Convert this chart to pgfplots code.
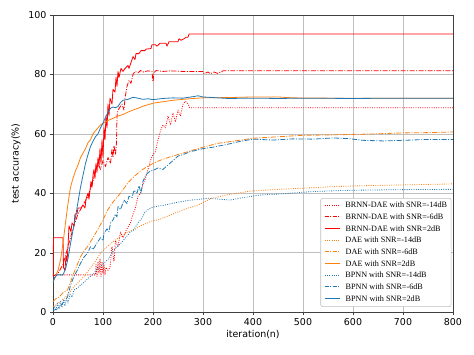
\documentclass[border=0pt]{standalone}
\usepackage{pgfplots}
\pgfplotsset{compat=1.18}
\usepackage{fontspec}
\setmainfont{DejaVu Sans}
\newfontfamily\legfont{Liberation Serif}
\definecolor{tabblue}{RGB}{31,119,180}
\definecolor{taborange}{RGB}{255,127,14}
\definecolor{bred}{RGB}{255,0,0}
\newcommand{\lf}{\legfont\fontsize{8.2}{9}\selectfont}
\newcommand{\rr}[1]{\rule[2.4bp]{#1}{0.8pt}}
\newcommand{\ldot}[1]{\textcolor{#1}{\rr{0.9pt}\hspace{1.4pt}\rr{0.9pt}\hspace{1.4pt}\rr{0.9pt}\hspace{1.4pt}\rr{0.9pt}\hspace{1.4pt}\rr{0.9pt}\hspace{1.4pt}\rr{0.9pt}\hspace{1.4pt}\rr{0.9pt}}\hspace{6bp}}
\newcommand{\ldash}[1]{\textcolor{#1}{\rr{4pt}\hspace{1.5pt}\rr{1pt}\hspace{1.5pt}\rr{4pt}\hspace{1.5pt}\rr{1pt}}\hspace{6.5bp}}
\newcommand{\lsol}[1]{\textcolor{#1}{\rr{15bp}}\hspace{6bp}}
\begin{document}
\begin{tikzpicture}
\useasboundingbox (-53bp,-43bp) rectangle (421bp,312bp);
\begin{axis}[
  scale only axis, width=400bp, height=297bp,
  xmin=0, xmax=800, ymin=0, ymax=100,
  xtick={0,100,...,800}, ytick={0,20,...,100},
  grid=major, grid style={color=black!25, line width=0.6pt},
  axis line style={color=black!75, line width=0.8pt},
  tick style={color=black!75},
  major tick length=3bp,
  tick align=outside,
  xtick pos=bottom, ytick pos=left,
  /pgf/number format/assume math mode=true,
  ticklabel style={font=\fontsize{9.5}{11}\selectfont},
  label style={font=\fontsize{9.5}{11}\selectfont},
  xlabel={iteration(n)}, ylabel={test accuracy(\%)},
  xlabel style={at={(axis description cs:0.5,-0.077)}, anchor=center},
  ylabel style={at={(axis description cs:-0.0925,0.5)}, anchor=center},
  legend style={at={(rel axis cs:0.996,0.017)}, anchor=south east,
    draw=black!25, fill=white, rounded corners=2pt, line width=0.6pt,
    row sep=0.5bp, inner sep=2bp, column sep=0pt},
  legend cell align=left,
  legend image code/.code={},
  every axis plot/.append style={line width=0.8pt, line join=round},
]
% BRNN-DAE -14dB
\addplot[bred, dash pattern=on 0.9pt off 1.4pt] coordinates {
(0,12.5) (85,12.5) (86,16) (88,12) (90,17) (92,13) (94,18) (96,12) (98,17) (100,13) (102,16) (104,12.5) (106,15) (110,14) (114,15) (118,22) (122,17) (125,24) (130,22) (135,27) (140,25) (148,28) (155,30) (160,33) (165,35) (170,39) (175,40) (180,43) (185,45) (190,48) (195,51) (200,53) (205,54) (210,58) (215,61) (220,63) (225,62) (230,66) (235,63) (240,67) (245,64) (250,68) (255,66) (260,70) (265,71) (270,70) (273,68.8) (800,68.8)};
\addlegendentry{\lf\ldot{bred}BRNN-DAE with SNR=-14dB}
% BRNN-DAE -6dB
\addplot[bred, dash pattern=on 5pt off 1.5pt on 1pt off 1.5pt] coordinates {
(0,12) (10,13) (20,16) (30,22) (40,28) (50,33) (60,36) (70,39) (80,44) (85,48) (90,50) (95,48) (100,51) (105,49) (110,52) (115,50) (118,55) (120,52) (122,56) (125,53) (127,57) (128,66) (130,68) (134,69) (138,70) (142,68) (144,72) (148,76) (152,78) (156,77) (160,80) (164,81) (170,80.5) (175,81.3) (180,80.8) (190,81.2) (198,81) (200,77.5) (202,80.5) (206,81.3) (220,81) (235,81.2) (260,81) (300,81) (302,80.2) (310,80.8) (315,80.2) (322,80.8) (330,80.3) (338,81) (340,81.2) (800,81.2)};
\addlegendentry{\lf\ldash{bred}BRNN-DAE with SNR=-6dB}
% BRNN-DAE 2dB
\addplot[bred, solid] coordinates {
(0,12) (1,25) (20,25) (21,15) (24,14) (26,19) (28,17) (30,22) (32,29) (36,27) (38,30) (42,29) (44,33) (48,33) (50,35) (56,35) (60,36) (64,35) (66,38) (70,40) (72,38) (76,44) (78,42) (80,46) (82,48) (84,45) (86,50) (88,47) (90,52) (92,49) (94,55) (96,50) (98,58) (100,52) (102,62) (104,58) (106,66) (108,62) (110,70) (112,66) (114,72) (118,70) (120,75) (124,74) (126,79) (128,76) (130,81) (132,79) (136,82) (140,81) (144,82) (150,83) (152,82) (156,84) (160,86) (164,85) (166,87) (172,87) (176,88) (184,88) (186,88.5) (196,88.7) (198,90) (205,90) (208,89.5) (214,90.5) (226,90.5) (228,89.5) (232,91) (250,91) (252,92) (256,91.5) (262,92) (266,92.5) (270,92.5) (272,93.6) (800,93.6)};
\addlegendentry{\lf\lsol{bred}BRNN-DAE with SNR=2dB}
% DAE -14dB
\addplot[taborange, dash pattern=on 0.9pt off 1.4pt] coordinates {
(0,1.8) (15,3.5) (29,5.7) (42,8.5) (62,12) (82,16.4) (95,19.8) (105,21.5) (115,23) (135,25.4) (150,27) (162,27.6) (175,29) (189,30) (200,30.8) (210,31) (230,32.3) (244,33.3) (270,35) (290,36) (317,38.3) (350,39.5) (394,40.7) (450,41.3) (514,41.8) (560,42.2) (614,42.5) (700,42.8) (794,43.1) (800,43.2)};
\addlegendentry{\lf\ldot{taborange}DAE with SNR=-14dB}
% DAE -6dB
\addplot[taborange, dash pattern=on 5pt off 1.5pt on 1pt off 1.5pt] coordinates {
(0,3.5) (6,4.5) (12,5) (20,6.5) (29,7.4) (35,10) (39,12) (45,14.5) (55,18.6) (62,20.5) (69,22) (80,25) (89,27.6) (100,31) (109,34.3) (120,37) (135,40) (150,43.5) (162,45.6) (175,47.5) (189,49) (200,50) (210,50.8) (230,52) (260,53.5) (300,55.5) (330,56.8) (360,57.5) (400,58.5) (450,59) (500,59.5) (550,59.6) (600,59.8) (650,60) (700,60.3) (750,60.4) (800,60.6)};
\addlegendentry{\lf\ldash{taborange}DAE with SNR=-6dB}
% DAE 2dB
\addplot[taborange, solid] coordinates {
(0,10) (5,12) (10,14) (15,17.5) (20,23) (25,30) (30,36.5) (35,42) (40,45) (45,47.5) (50,49.5) (55,52) (60,53.5) (65,55) (70,57) (75,58) (80,60) (85,61) (90,62) (95,63) (100,63.5) (110,64.5) (120,65.2) (130,66) (140,66.5) (150,67.3) (160,68) (170,68.6) (180,69.3) (190,69.8) (200,70.3) (220,70.8) (240,71.3) (260,71.6) (280,71.9) (300,72.1) (350,72.2) (400,72.4) (450,72.4) (480,72.1) (550,72.0) (800,72.0)};
\addlegendentry{\lf\lsol{taborange}DAE with SNR=2dB}
% BPNN -14dB
\addplot[tabblue, dash pattern=on 0.9pt off 1.4pt] coordinates {
(0,0.7) (3,2) (6,0.5) (9,3) (12,1) (15,3.5) (18,1.5) (21,4) (24,2) (27,4.5) (30,3) (34,6) (38,5) (42,7.4) (48,8) (55,9) (62,10) (68,11) (75,12) (82,13) (88,14.5) (95,15.3) (102,16.5) (109,17.5) (115,19) (122,20.9) (128,22) (135,23) (145,25) (155,27) (162,27.8) (170,30) (178,31.5) (184,33.7) (195,35) (205,35.5) (224,36) (250,37) (277,37.7) (310,38.3) (354,37.7) (380,38.5) (414,39.4) (460,39.8) (514,40.5) (560,40.8) (600,41) (700,41.2) (800,41.3)};
\addlegendentry{\lf\ldot{tabblue}BPNN with SNR=-14dB}
% BPNN -6dB
\addplot[tabblue, dash pattern=on 5pt off 1.5pt on 1pt off 1.5pt] coordinates {
(0,0.5) (8,1) (15,2) (22,3.5) (29,5) (35,9) (42,12) (50,14.5) (55,16.4) (62,18.5) (69,19.8) (75,22) (80,21) (89,23.5) (95,25) (100,24) (102,26.5) (108,28) (112,27) (115,30) (120,31) (125,33) (128,32) (130,35.5) (135,34.5) (142,37.7) (148,36.5) (152,39) (158,38.5) (162,41) (168,40) (172,42.5) (176,40) (180,44) (185,46) (189,46.7) (195,47.5) (202,47.8) (210,48.5) (220,48) (230,49.5) (240,51) (250,52.5) (260,53) (275,54) (300,55) (320,55.5) (350,56.5) (373,57.4) (400,58.2) (440,57.9) (480,58.3) (520,58.2) (560,58.6) (590,58.4) (620,57.8) (660,57.6) (700,57.8) (750,58.1) (800,58.1)};
\addlegendentry{\lf\ldash{tabblue}BPNN with SNR=-6dB}
% BPNN 2dB
\addplot[tabblue, solid] coordinates {
(0,10) (3,11.5) (8,12.5) (20,12.5) (25,14.5) (30,18) (35,23) (40,27.5) (45,32) (50,37) (55,42) (60,46) (65,50) (70,53) (75,55.7) (80,57.5) (85,59) (90,60) (95,62) (100,63.6) (105,65.5) (110,67.3) (115,68.6) (120,69) (125,68.8) (130,69.2) (135,70.5) (140,71.3) (150,71.6) (160,72.3) (170,72.0) (180,71.6) (190,71.8) (200,71.5) (220,71.9) (240,72.1) (260,72.0) (280,72.5) (290,72.8) (300,72.4) (320,72.2) (350,71.9) (400,72.0) (450,71.9) (500,72.0) (600,71.9) (700,72.0) (800,72.0)};
\addlegendentry{\lf\lsol{tabblue}BPNN with SNR=2dB}
\end{axis}
\end{tikzpicture}
\end{document}
